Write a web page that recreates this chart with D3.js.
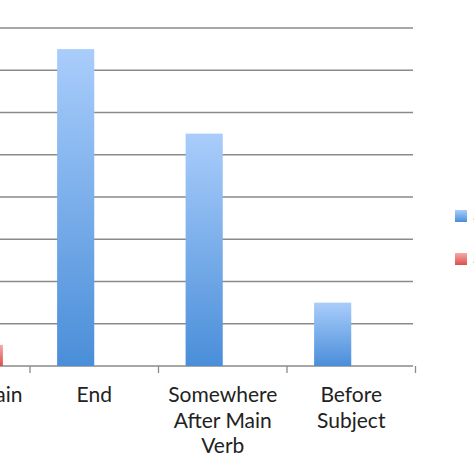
<!DOCTYPE html><html><head><meta charset="utf-8"><script src="https://cdn.jsdelivr.net/npm/d3@7"></script>
<style>body{margin:0;background:#fff}svg{display:block}</style></head><body><svg width="474" height="474"></svg><script>
const categories=["Before Main","End","Somewhere After Main Verb","Before Subject"];
const categoryLines=[["Before Main"],["End"],["Somewhere","After Main","Verb"],["Before","Subject"]];
const seriesNames=["Series 1","Series 2"];
const series1=[0,7.5,5.5,1.5];
const series2=[0.5,0,0,0];
const yTicks=[0,1,2,3,4,5,6,7,8];
const svg=d3.select("svg");
const defs=svg.append("defs");
function grad(id,a,b){const g=defs.append("linearGradient").attr("id",id).attr("x1",0).attr("y1",0).attr("x2",0).attr("y2",1);
g.append("stop").attr("offset","0%").attr("stop-color",a);g.append("stop").attr("offset","100%").attr("stop-color",b);}
grad("gb","#a9cdfb","#4a8ed9");grad("gr","#f7a9a7","#d9504e");
const x=d3.scaleBand().domain(categories).range([-98.5,415.5]);
const y=d3.scaleLinear().domain([0,8]).range([366,28]);
svg.append("g").selectAll("line").data(yTicks).join("line").attr("x1",0).attr("x2",413).attr("y1",d=>y(d)).attr("y2",d=>y(d)).attr("stroke","#8a8a8a").attr("stroke-width",1.3);
svg.append("g").selectAll("line").data(categories.map(c=>x(c)+x.bandwidth())).join("line").attr("x1",d=>d).attr("x2",d=>d).attr("y1",366).attr("y2",373).attr("stroke","#8a8a8a").attr("stroke-width",1.3);
const sub=d3.scaleBand().domain([0,1]).range([0,x.bandwidth()]).paddingOuter(0.73).paddingInner(0);
[series1,series2].forEach((s,i)=>{svg.append("g").selectAll("rect").data(categories.map((c,j)=>({c,v:s[j]}))).join("rect")
.attr("x",d=>x(d.c)+sub(i)).attr("width",sub.bandwidth()).attr("y",d=>y(d.v)).attr("height",d=>366-y(d.v)).attr("fill",i?"url(#gr)":"url(#gb)");});
const lab=svg.append("g").attr("font-family","Lato, 'Open Sans', sans-serif").attr("font-size",21).attr("fill","#222").attr("text-anchor","middle");
categories.forEach((c,j)=>{categoryLines[j].forEach((t,k)=>lab.append("text").attr("x",x(c)+x.bandwidth()/2).attr("y",402+k*25.5).text(t));});
seriesNames.forEach((n,i)=>{svg.append("rect").attr("x",455).attr("y",210+i*43).attr("width",12).attr("height",12).attr("fill",i?"url(#gr)":"url(#gb)");
svg.append("text").attr("x",473).attr("y",221+i*43).attr("font-family","Lato, sans-serif").attr("font-size",19).attr("fill","#222").text(n);});
</script></body></html>
